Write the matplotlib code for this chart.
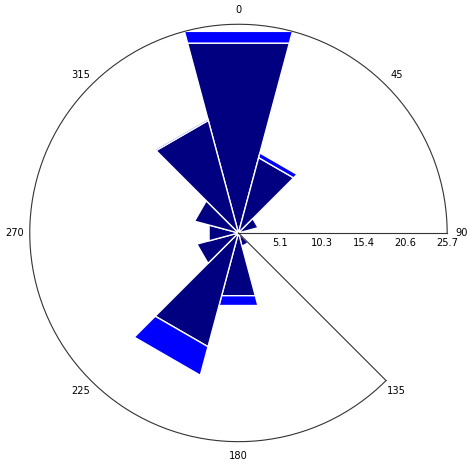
import matplotlib
matplotlib.use('Agg')
import matplotlib.pyplot as plt
from matplotlib.patches import Rectangle
import numpy as np

# Wind directions (degrees, clockwise from North) and stacked bin values
directions = [0, 30, 60, 90, 120, 150, 180, 210, 240, 270, 300, 330]
bin_low = [24.2, 9.6, 2.5, 0.0, 0.0, 1.7, 8.0, 14.5, 5.3, 3.75, 5.6, 14.35]
bin_high = [1.5, 0.6, 0.0, 0.0, 0.0, 0.0, 1.25, 3.65, 0.0, 0.0, 0.0, 0.2]
bin_colors = ['#000080', '#0000ff']

r_ticks = [5.14, 10.28, 15.42, 20.56, 25.7]
r_labels = ['5.1', '10.3', '15.4', '20.6', '25.7']
theta_ticks = [135, 180, 225, 270, 315, 360, 405, 450]
theta_labels = ['135', '180', '225', '270', '315', '0', '45', '90']
r_max = 25.7

fs = 7.1
fig = plt.figure(figsize=(4.74, 4.67), dpi=100)
ax = fig.add_axes([28 / 474, 24 / 467, 420 / 474, 420 / 467], projection='polar')
ax.set_theta_zero_location('N')
ax.set_theta_direction(-1)
ax.set_thetamin(135)
ax.set_thetamax(450)

width = np.deg2rad(30)
for d, lo, hi in zip(directions, bin_low, bin_high):
    th = np.deg2rad(d) - width / 2
    offset = 0.0
    for val, col in zip((lo, hi), bin_colors):
        if val > 0:
            ax.add_patch(Rectangle((th, offset), width, val, facecolor=col,
                                   edgecolor='white', linewidth=1.0))
        offset += val

ax.set_ylim(0, r_max)
ax.set_yticks(r_ticks)
ax.set_yticklabels(r_labels)
ax.set_xticks(np.deg2rad(theta_ticks))
ax.set_xticklabels(theta_labels)
ax.grid(False)
ax.yaxis.set_tick_params(label1On=False, label2On=True, length=0, labelsize=fs)
ax.xaxis.set_tick_params(length=0, labelsize=fs)
for sp in ax.spines.values():
    sp.set_color('#333333')
    sp.set_linewidth(0.8)

fig.savefig('out.png', dpi=100)
